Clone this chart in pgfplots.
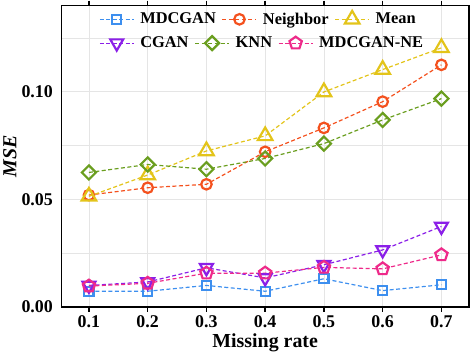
\documentclass[border=0pt]{standalone}
\usepackage{fontspec}
\setmainfont{Liberation Serif}
\usepackage{pgfplots}
\pgfplotsset{compat=1.18}
\definecolor{cblue}{HTML}{3D8FEF}
\definecolor{corange}{HTML}{F4511E}
\definecolor{cyellow}{HTML}{E3C41A}
\definecolor{cpurple}{HTML}{8B1FE8}
\definecolor{cgreen}{HTML}{6A9E1F}
\definecolor{cpink}{HTML}{EE2A8A}
\newcommand\lf{\bfseries\fontsize{16.5}{16.5}\selectfont}
\pgfplotsset{
  common/.style={
    scale only axis,
    width=410pt, height=303pt,
    xmin=0.053, xmax=0.747,
    ymin=0, ymax=0.14,
    legend columns=3,
    legend cell align=left,
    legend image code/.code={\draw[mark repeat=2,mark phase=2] plot coordinates {(0cm,0cm) (0.6cm,0cm) (1.2cm,0cm)};},
    legend style={anchor=north west, draw=none, fill=none,
      font=\lf, nodes={inner xsep=2pt}, column sep=4pt},
  },
  ser/.style={#1, dashed, dash pattern=on 4pt off 2.5pt, line width=1.2pt},
}
\begin{document}
\begin{tikzpicture}
\begin{axis}[
  common,
  xtick={0.1,0.2,0.3,0.4,0.5,0.6,0.7},
  xticklabels={0.1,0.2,0.3,0.4,0.5,0.6,0.7},
  ytick={0,0.05,0.1},
  yticklabels={0.00,0.05,0.10},
  minor ytick={0.025,0.075,0.125},
  grid=both,
  major grid style={draw=gray!20, line width=0.8pt},
  minor grid style={draw=gray!20, line width=0.8pt},
  axis line style={line width=1.6pt},
  xtick style={draw=black, line width=1.4pt},
  ytick style={draw=none},
  minor tick style={draw=none},
  tick align=outside,
  major tick length=5pt,
  /pgf/number format/assume math mode=true,
  tick label style={font=\bfseries\fontsize{18}{18}\selectfont},
  xlabel={Missing rate},
  ylabel={\textit{MSE}},
  label style={font=\bfseries\fontsize{20}{20}\selectfont},
  xlabel style={yshift=1pt},
  ylabel style={yshift=-2pt},
  legend style={at={(0.085,0.99)}},
]
\addplot[ser=cblue, mark=square, mark size=4.6pt, mark options={solid, line width=2.2pt, fill=white}] coordinates {
(0.1,0.0073) (0.2,0.0073) (0.3,0.0100) (0.4,0.0073) (0.5,0.0131) (0.6,0.0076) (0.7,0.0103)};
\addlegendentry{MDCGAN}
\addplot[ser=corange, mark=o, mark size=5.3pt, mark options={solid, line width=2.2pt, fill=white}] coordinates {
(0.1,0.0520) (0.2,0.0554) (0.3,0.0570) (0.4,0.0721) (0.5,0.0832) (0.6,0.0954) (0.7,0.1125)};
\addlegendentry{Neighbor}
\addplot[ser=cyellow, mark=triangle, mark size=8.5pt, mark options={solid, line width=2.2pt, fill=white}] coordinates {
(0.1,0.0514) (0.2,0.0613) (0.3,0.0725) (0.4,0.0795) (0.5,0.0999) (0.6,0.1103) (0.7,0.1204)};
\addlegendentry{Mean}
\end{axis}
\begin{axis}[
  common,
  hide axis,
  legend style={at={(0.085,0.91)}},
]
\addplot[ser=cpurple, mark=triangle, mark size=7.5pt, mark options={solid, line width=2.2pt, fill=white, rotate=180}] coordinates {
(0.1,0.0100) (0.2,0.0116) (0.3,0.0182) (0.4,0.0135) (0.5,0.0196) (0.6,0.0265) (0.7,0.0374)};
\addlegendentry{CGAN}
\addplot[ser=cgreen, mark=square, mark size=5pt, mark options={solid, line width=2.2pt, fill=white, rotate=45}] coordinates {
(0.1,0.0625) (0.2,0.0662) (0.3,0.0640) (0.4,0.0690) (0.5,0.0759) (0.6,0.0869) (0.7,0.0968)};
\addlegendentry{KNN}
\addplot[ser=cpink, mark=pentagon, mark size=6.5pt, mark options={solid, line width=2.2pt, fill=white}] coordinates {
(0.1,0.0097) (0.2,0.0110) (0.3,0.0157) (0.4,0.0157) (0.5,0.0184) (0.6,0.0177) (0.7,0.0242)};
\addlegendentry{MDCGAN-NE}
\end{axis}
\end{tikzpicture}
\end{document}
